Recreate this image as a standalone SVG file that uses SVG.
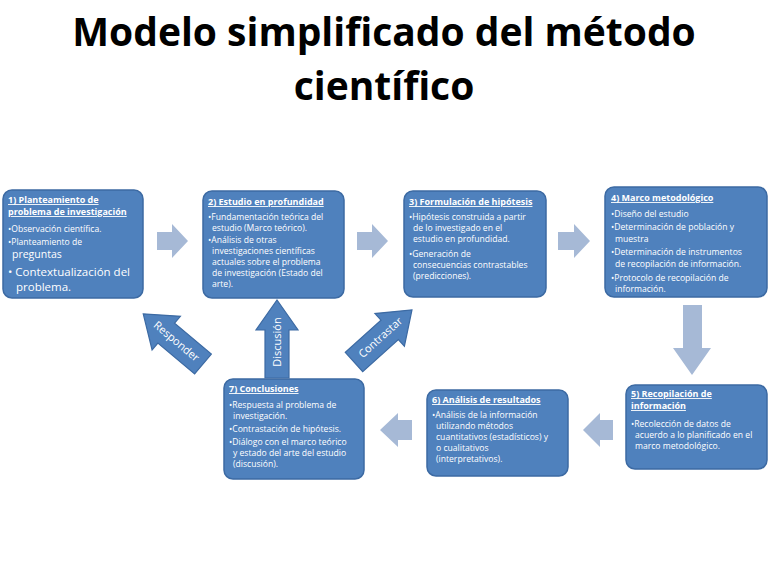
<svg xmlns="http://www.w3.org/2000/svg" width="768" height="576" viewBox="0 0 768 576">
<style>
.box{fill:#4f81bd;stroke:#3c6aa3;stroke-width:1.5}
.t{font-family:"Open Sans","Liberation Sans",sans-serif;fill:#fff;font-size:8.6px}
.h{font-family:"Open Sans","Liberation Sans",sans-serif;fill:#fff;font-size:9px;font-weight:bold;text-decoration:underline}
.la{fill:#a6b9d6}
.da{fill:#4f81bd;stroke:#3c6aa3;stroke-width:1.2}
.at{font-family:"Open Sans","Liberation Sans",sans-serif;fill:#fff;font-size:11px}
</style>
<rect width="768" height="576" fill="#fff"/>
<g id="title" font-family="'Open Sans','Liberation Sans',sans-serif" font-size="39" font-weight="bold" text-anchor="middle" fill="#000">
<text x="384" y="46">Modelo simplificado del método</text>
<text x="384" y="100">científico</text>
</g>
<g id="n1"><rect class="box" x="3" y="190" width="140" height="108" rx="9"/>
<text class="h" x="8" y="203">1) Planteamiento de</text><text class="h" x="8" y="215">problema de investigación</text>
<text class="t" x="8" y="232">•Observación científica.</text>
<text class="t" x="8" y="245">•Planteamiento de</text>
<text class="t" x="12" y="258" style="font-size:10.5px">preguntas</text>
<text class="t" x="8" y="276" style="font-size:11.5px">• Contextualización del</text>
<text class="t" x="16" y="291" style="font-size:11.5px">problema.</text></g>
<g id="n2"><rect class="box" x="203" y="191" width="141" height="107" rx="9"/>
<text class="h" x="208" y="205">2) Estudio en profundidad</text>
<text class="t" x="208" y="220">•Fundamentación teórica del</text>
<text class="t" x="212" y="231">estudio (Marco teórico).</text>
<text class="t" x="208" y="243">•Análisis de otras</text>
<text class="t" x="212" y="254">investigaciones científicas</text>
<text class="t" x="212" y="265">actuales sobre el problema</text>
<text class="t" x="212" y="276">de investigación (Estado del</text>
<text class="t" x="212" y="287">arte).</text></g>
<g id="n3"><rect class="box" x="404" y="191" width="142" height="106" rx="9"/>
<text class="h" x="409" y="205">3) Formulación de hipótesis</text>
<text class="t" x="409" y="220">•Hipótesis construida a partir</text>
<text class="t" x="413" y="231">de lo investigado en el</text>
<text class="t" x="413" y="242">estudio en profundidad.</text>
<text class="t" x="409" y="257">•Generación de</text>
<text class="t" x="413" y="268">consecuencias contrastables</text>
<text class="t" x="413" y="279">(predicciones).</text></g>
<g id="n4"><rect class="box" x="605" y="187" width="162" height="110" rx="9"/>
<text class="h" x="611" y="201">4) Marco metodológico</text>
<text class="t" x="611" y="217">•Diseño del estudio</text>
<text class="t" x="611" y="230">•Determinación de población y</text>
<text class="t" x="615" y="242">muestra</text>
<text class="t" x="611" y="255">•Determinación de instrumentos</text>
<text class="t" x="615" y="267">de recopilación de información.</text>
<text class="t" x="611" y="281">•Protocolo de recopilación de</text>
<text class="t" x="615" y="292">información.</text></g>
<g id="n5"><rect class="box" x="626" y="385" width="141" height="84" rx="9"/>
<text class="h" x="631" y="397">5) Recopilación de</text><text class="h" x="631" y="409">información</text>
<text class="t" x="631" y="427">•Recolección de datos de</text>
<text class="t" x="635" y="438">acuerdo a lo planificado en el</text>
<text class="t" x="635" y="449">marco metodológico.</text></g>
<g id="n6"><rect class="box" x="427" y="390" width="141" height="86" rx="9"/>
<text class="h" x="432" y="403">6) Análisis de resultados</text>
<text class="t" x="432" y="418">•Análisis de la información</text>
<text class="t" x="436" y="429">utilizando métodos</text>
<text class="t" x="436" y="440">cuantitativos (estadísticos) y</text>
<text class="t" x="436" y="451">o cualitativos</text>
<text class="t" x="436" y="462">(interpretativos).</text></g>
<g id="n7"><rect class="box" x="224" y="379" width="140" height="100" rx="9"/>
<text class="h" x="229" y="392">7) Conclusiones</text>
<text class="t" x="229" y="408">•Respuesta al problema de</text>
<text class="t" x="233" y="419">investigación.</text>
<text class="t" x="229" y="432">•Contrastación de hipótesis.</text>
<text class="t" x="229" y="445">•Diálogo con el marco teórico</text>
<text class="t" x="233" y="456">y estado del arte del estudio</text>
<text class="t" x="233" y="467">(discusión).</text></g>
<g id="connectors">
<polygon class="la" points="157,232 172,232 172,224 188,241 172,258 172,250 157,250"/>
<polygon class="la" points="357,232 372,232 372,224 388,241 372,258 372,250 357,250"/>
<polygon class="la" points="558,232 574,232 574,224 590,241 574,258 574,250 558,250"/>
<polygon class="la" points="683,305 702,305 702,348 711,348 692,375 673,348 683,348"/>
<polygon class="la" points="613,420 600,420 600,413 583,430 600,447 600,440 613,440"/>
<polygon class="la" points="412,420 398,420 398,413 380,430 398,447 398,440 412,440"/>
<g transform="translate(203,364) rotate(-50)"><polygon class="da" points="-13,0 13,0 13,-48 22,-48 0,-78 -22,-48 -13,-48"/></g>
<g transform="translate(277,378)"><polygon class="da" points="-12,0 12,0 12,-48 21,-48 0,-78 -21,-48 -12,-48"/></g>
<g transform="translate(354,362) rotate(48)"><polygon class="da" points="-13,0 13,0 13,-48 22,-48 0,-78 -22,-48 -13,-48"/></g>
<text class="at" transform="translate(176,342) rotate(40)" text-anchor="middle" dominant-baseline="middle">Responder</text>
<text class="at" transform="translate(278,342) rotate(-90)" text-anchor="middle" dominant-baseline="middle">Discusión</text>
<text class="at" transform="translate(381,338) rotate(-42)" text-anchor="middle" dominant-baseline="middle">Contrastar</text>
</g>
</svg>
